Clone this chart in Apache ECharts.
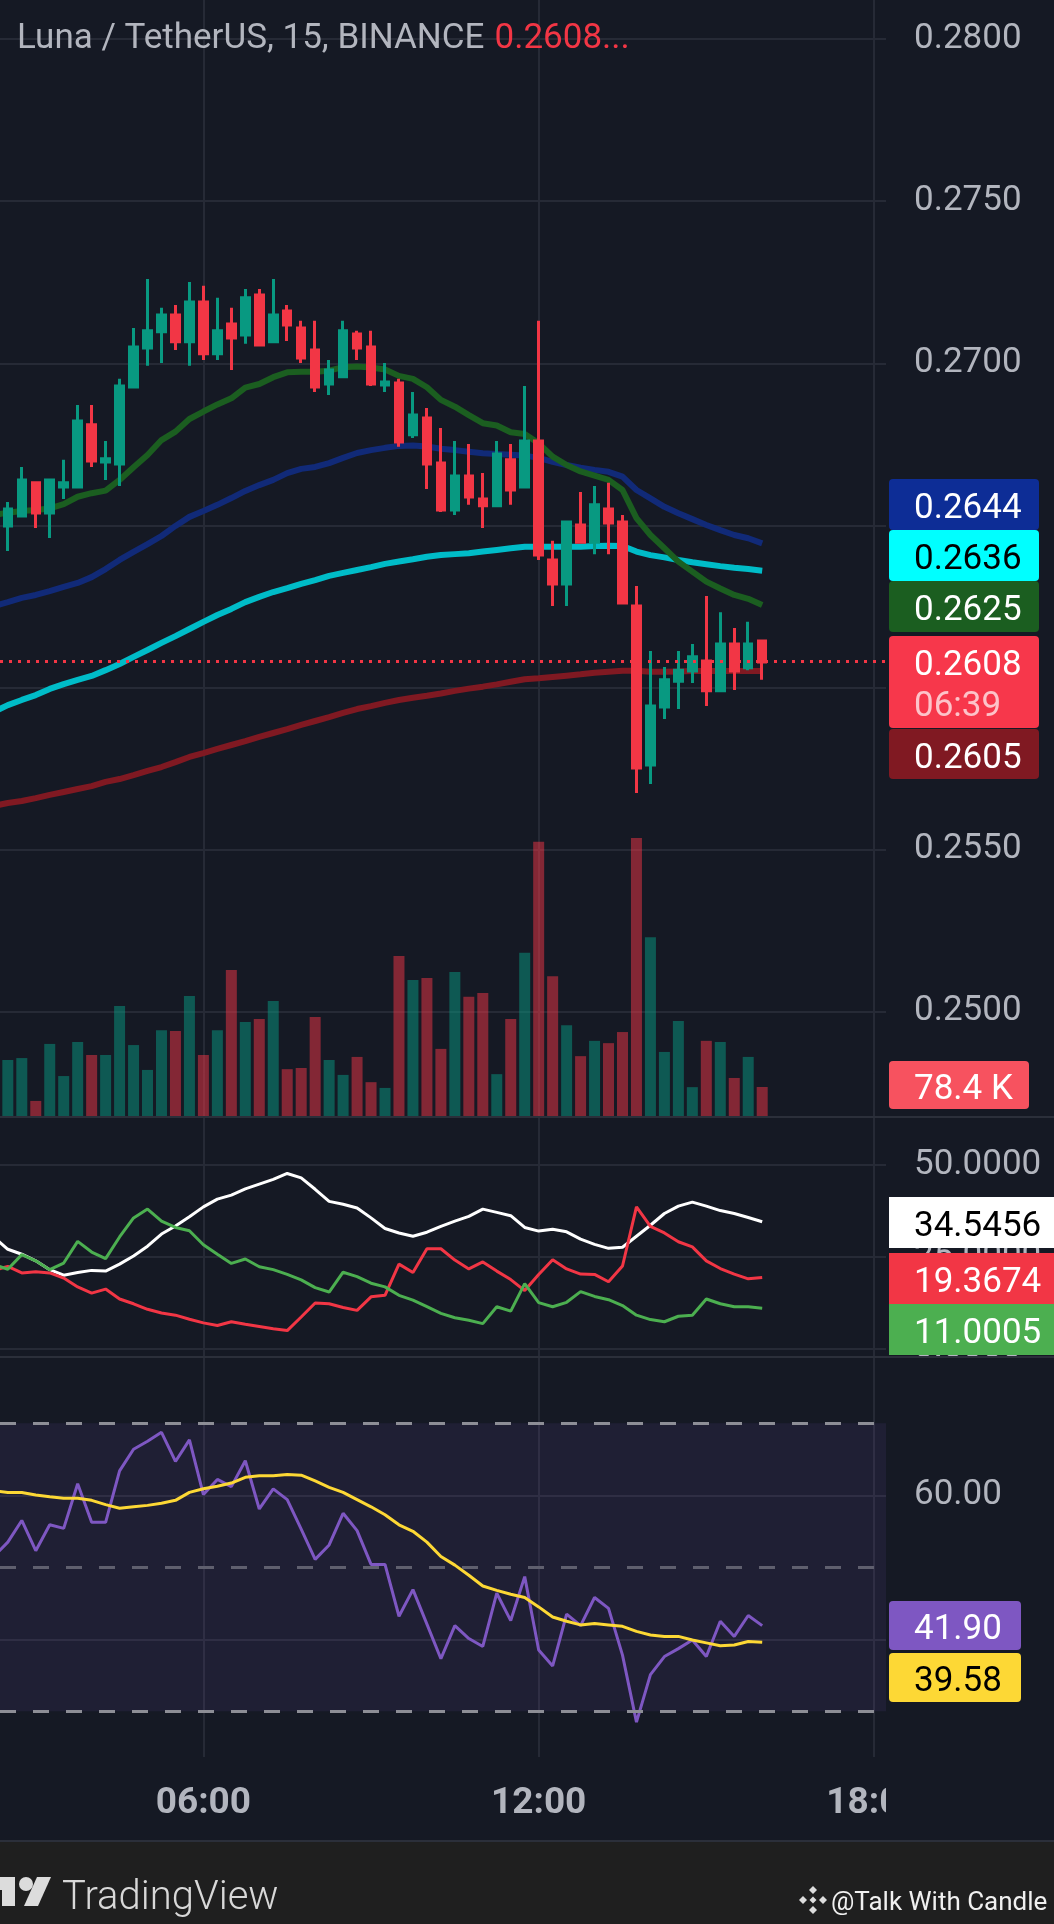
<!DOCTYPE html>
<html>
<head>
<meta charset="utf-8">
<title>Luna / TetherUS</title>
<script src="https://cdn.jsdelivr.net/npm/echarts@6/dist/echarts.min.js"></script>
<style>
html,body{margin:0;padding:0;background:#151924;}
#main{width:1054px;height:1924px;}
</style>
</head>
<body>
<div id="main"></div>
<script>
// 15 minute bars, the first line value sits one bar left of the first candle
var firstLineBar = Date.UTC(2023, 0, 10, 2, 15);
var barMs = 15 * 60 * 1000;
var viewStart = Date.UTC(2023, 0, 10, 2, 21, 36);
var viewEnd = Date.UTC(2023, 0, 10, 18, 12, 56);

var opens = [.26498,.26529,.26631,.26538,.26618,.26618,.26810,.26695,.26689,.26927,.27047,.27097,.27149,.27066,.27189,.27029,.27121,.27087,.27211,.27066,.27161,.27109,.27041,.26936,.26958,.27090,.27050,.26933,.26939,.26779,.26831,.26692,.26547,.26652,.26581,.26560,.26702,.26618,.26760,.26393,.26319,.26501,.26448,.26550,.26510,.26251,.25760,.25939,.26019,.26050,.26081,.25989,.26134,.26060,.26143];
var closes = [.26550,.26640,.26538,.26640,.26631,.26822,.26698,.26705,.26930,.27050,.27100,.27149,.27066,.27189,.27029,.27100,.27078,.27202,.27056,.27149,.27118,.27016,.26927,.26979,.27100,.27047,.26936,.26942,.26757,.26840,.26689,.26547,.26652,.26587,.26560,.26720,.26609,.26760,.26408,.26319,.26510,.26448,.26563,.26507,.26260,.25751,.25942,.26023,.26053,.26094,.25989,.26134,.26050,.26134,.26078];
var lows = [.26421,.26529,.26492,.26461,.26581,.26618,.26680,.26640,.26621,.26927,.26992,.27001,.27041,.26992,.27010,.27010,.26979,.27060,.27056,.27066,.27069,.27001,.26911,.26902,.26958,.27010,.26930,.26911,.26742,.26769,.26612,.26541,.26532,.26563,.26492,.26560,.26563,.26618,.26393,.26251,.26251,.26448,.26411,.26411,.26260,.25674,.25702,.25902,.25933,.26013,.25942,.25989,.25992,.26053,.26023];
var highs = [.26572,.26680,.26631,.26640,.26702,.26871,.26871,.26760,.26952,.27109,.27260,.27171,.27180,.27251,.27239,.27202,.27171,.27229,.27229,.27260,.27180,.27131,.27131,.27010,.27131,.27100,.27100,.27001,.26952,.26911,.26862,.26800,.26760,.26751,.26661,.26760,.26751,.26930,.27131,.26452,.26510,.26603,.26621,.26631,.26532,.26313,.26112,.26063,.26112,.26134,.26282,.26232,.26183,.26202,.26143];
var volumes = [149,154,42,191,107,196,162,162,290,188,123,227,225,316,162,227,384,248,256,303,125,128,261,149,110,157,91,76,421,358,363,178,379,314,324,112,256,429,719,368,240,159,199,193,222,729,470,170,251,78,199,196,102,157,78.4];

var ma1 = [.26532,.26539,.26544,.26547,.26552,.26565,.26588,.26599,.26607,.26640,.26679,.26717,.26763,.26789,.26828,.26851,.26873,.26892,.26925,.26936,.26957,.26972,.26974,.26974,.26977,.26988,.26990,.26987,.26981,.26961,.26952,.26926,.26887,.26866,.26840,.26815,.26808,.26787,.26782,.26753,.26712,.26686,.26666,.26653,.26640,.26609,.26522,.26470,.26429,.26388,.26357,.26326,.26305,.26285,.26273,.26254];
var ma2 = [.26251,.26263,.26276,.26285,.26297,.26310,.26322,.26340,.26365,.26393,.26418,.26442,.26467,.26498,.26526,.26544,.26563,.26584,.26606,.26624,.26640,.26661,.26674,.26680,.26692,.26708,.26723,.26732,.26739,.26745,.26746,.26743,.26736,.26732,.26727,.26722,.26720,.26718,.26715,.26708,.26696,.26686,.26678,.26671,.26665,.26650,.26609,.26583,.26557,.26537,.26519,.26501,.26485,.26470,.26460,.26444];
var ma3 = [.25924,.25945,.25961,.25976,.25995,.26010,.26023,.26035,.26053,.26072,.26094,.26115,.26137,.26158,.26180,.26202,.26223,.26242,.26263,.26279,.26294,.26306,.26319,.26331,.26344,.26353,.26362,.26371,.26381,.26388,.26395,.26403,.26408,.26411,.26414,.26419,.26424,.26429,.26434,.26434,.26434,.26434,.26434,.26436,.26437,.26436,.26419,.26408,.26401,.26393,.26386,.26380,.26374,.26369,.26365,.26360];
var ma4 = [.25634,.25643,.25649,.25658,.25668,.25677,.25686,.25695,.25708,.25717,.25729,.25742,.25754,.25769,.25785,.25797,.25810,.25822,.25834,.25847,.25859,.25871,.25884,.25896,.25908,.25921,.25933,.25942,.25952,.25961,.25968,.25974,.25981,.25989,.25996,.26002,.26009,.26017,.26025,.26028,.26032,.26036,.26040,.26045,.26048,.26051,.26051,.26048,.26048,.26049,.26050,.26050,.26050,.26050,.26050,.26050];

var adx = [30.4,27.05,25.7,23.9,21.5,20.0,20.7,21.3,21.1,23.0,25.2,27.9,31.2,33.4,35.9,38.6,40.7,41.8,43.5,44.8,46.1,47.7,46.5,43.4,40.1,39.3,38.3,35.6,32.7,31.5,30.6,31.7,33.3,34.7,36.0,38.0,37.1,36.2,33.0,32.0,32.5,31.8,29.8,28.4,27.3,27.6,30.6,33.6,36.8,38.8,39.9,38.8,37.6,36.8,35.7,34.5456];
var diMinus = [21.3,22.4,20.6,20.9,20.6,19.2,16.8,15.1,16.2,13.5,12.2,10.7,9.7,9.1,8.0,7.0,6.3,7.3,6.6,6.0,5.4,4.9,8.6,12.4,12.2,11.2,10.4,14.1,14.5,23.0,20.7,27.2,27.2,24.1,21.7,23.6,21.1,18.8,15.8,20.2,24.2,21.7,20.3,20.2,18.2,22.5,38.6,33.3,31.5,29.1,27.7,23.9,21.8,20.3,19.0,19.3674];
var diPlus = [22.9,21.6,25.6,23.9,21.5,23.3,29.2,26.3,24.5,30.4,35.6,38.0,34.7,33.0,32.1,28.3,25.7,23.2,24.4,22.3,21.5,20.2,18.7,16.6,15.4,20.8,19.6,17.8,16.8,14.5,13.2,11.4,9.6,8.4,7.7,6.8,11.4,10.2,17.7,12.5,11.4,12.6,15.5,14.2,13.3,11.7,9.1,7.9,7.3,8.8,9.1,13.5,12.2,11.4,11.4,11.0005];

var rsi = [51.5,53.5,56.5,52.3,55.9,55.4,61.6,56.25,56.25,63.4,66.4,67.5,68.75,64.7,67.7,60.1,62.2,61.2,64.8,58.1,60.9,59.4,55.3,51.1,53.1,57.5,55.1,50.4,50.4,43.2,46.9,42.1,37.3,41.9,40.1,39.0,46.4,42.6,48.7,38.5,36.3,43.5,41.9,45.8,44.3,37.8,28.5,35.1,37.6,38.7,39.9,37.6,42.5,40.4,43.3,41.9];
var rsiMa = [60.6,60.4,60.4,60.05,59.8,59.6,59.6,59.3,58.7,58.2,58.4,58.6,58.9,59.3,60.4,60.9,61.25,61.7,62.5,62.7,62.7,62.9,62.8,62.0,61.1,60.4,59.4,58.4,57.3,55.9,55.0,53.5,51.5,50.3,48.9,47.4,46.8,46.25,45.8,44.5,43.1,42.5,42.0,42.2,42.0,41.8,41.1,40.6,40.4,40.4,39.9,39.5,39.1,39.2,39.7,39.58];

var rsiLevels = [70, 50, 30];
var lastPrice = 0.2608;

var upColor = '#089981', downColor = '#f23645';
var gridColor = '#262a36';
var labelColor = '#b2b5be';
var fontName = 'Roboto';

// a bar series makes a time axis widen itself by half a bar on each side,
// so the main pane asks for a range that is narrower by that much
var paneWidth = 886;
var barPx = 11;
var barInset = (viewEnd - viewStart) / paneWidth * barPx / 2;

function withTime(arr, offset) {
	var out = [];
	for (var i = 0; i < arr.length; i++) {
		out.push([firstLineBar + (i + offset) * barMs, arr[i]]);
	}
	return out;
}

var candleData = [], volumeData = [];
for (var i = 0; i < opens.length; i++) {
	var t = firstLineBar + (i + 1) * barMs;
	candleData.push([t, opens[i], closes[i], lows[i], highs[i]]);
	volumeData.push({
		value: [t, volumes[i]],
		itemStyle: {color: closes[i] >= opens[i] ? 'rgba(8,153,129,0.5)' : 'rgba(242,54,69,0.5)'}
	});
}

function timeAxis(gridIndex, showLabel, inset) {
	return {
		type: 'time',
		gridIndex: gridIndex,
		min: viewStart + inset,
		max: viewEnd - inset,
		splitNumber: 2,
		axisLine: {show: false},
		axisTick: {show: false},
		axisLabel: {
			show: showLabel,
			formatter: '{HH}:{mm}',
			color: labelColor,
			fontFamily: fontName,
			fontSize: 37,
			fontWeight: 700,
			margin: 28,
			showMinLabel: false,
			showMaxLabel: false,
			hideOverlap: false
		},
		splitLine: {show: true, showMinLine: false, showMaxLine: false, lineStyle: {color: gridColor, width: 2}}
	};
}

function priceAxis(gridIndex, min, max, digits, splitNumber, interval) {
	return {
		type: 'value',
		gridIndex: gridIndex,
		position: 'right',
		min: min,
		max: max,
		splitNumber: splitNumber,
		interval: interval,
		axisLine: {show: false},
		axisTick: {show: false},
		axisLabel: {
			color: labelColor,
			fontFamily: fontName,
			fontSize: 35,
			margin: 28,
			padding: [8, 0, 0, 0],
			showMinLabel: false,
			showMaxLabel: false,
			formatter: function(v) { return v.toFixed(digits); }
		},
		splitLine: {show: true, showMinLine: false, showMaxLine: false, lineStyle: {color: gridColor, width: 2}}
	};
}

function lineSeries(name, data, color, width, xIdx, yIdx, z) {
	return {
		name: name,
		type: 'line',
		xAxisIndex: xIdx,
		yAxisIndex: yIdx,
		data: withTime(data, 0),
		showSymbol: false,
		z: z,
		lineStyle: {color: color, width: width},
		itemStyle: {color: color}
	};
}

function tagBox(top, w, h, fill) {
	return {type: 'rect', z: 100, shape: {x: 889, y: top, width: w, height: h, r: 4}, style: {fill: fill}};
}

function tagText(cy, text, color) {
	return {type: 'text', z: 101, style: {x: 914, y: cy + 4, text: text, fill: color, font: '35px ' + fontName, textAlign: 'left', textVerticalAlign: 'middle'}};
}

function diamond(cx, cy, r, color) {
	return {type: 'polygon', z: 101, shape: {points: [[cx, cy - r], [cx + r, cy], [cx, cy + r], [cx - r, cy]]}, style: {fill: color}};
}

var graphics = [
	// pane separators
	{type: 'rect', z: 50, shape: {x: 0, y: 1116, width: 1054, height: 2}, style: {fill: '#2b2f3a'}},
	{type: 'rect', z: 50, shape: {x: 0, y: 1356, width: 1054, height: 2}, style: {fill: '#2b2f3a'}},
	// the time axis is cut at the price scale
	{type: 'rect', z: 50, shape: {x: 886, y: 1758, width: 168, height: 82}, style: {fill: '#151924'}},
	// footer
	{type: 'rect', z: 60, shape: {x: 0, y: 1841, width: 1054, height: 83}, style: {fill: '#1f1f1f'}},
	{type: 'rect', z: 61, shape: {x: 0, y: 1840, width: 1054, height: 2}, style: {fill: '#2b2f3a'}},
	{type: 'polygon', z: 101, shape: {points: [[0, 1877], [15, 1877], [15, 1906], [2, 1906], [2, 1890], [0, 1890]]}, style: {fill: '#dcdcdc'}},
	{type: 'circle', z: 101, shape: {cx: 26, cy: 1884, r: 7}, style: {fill: '#dcdcdc'}},
	{type: 'polygon', z: 101, shape: {points: [[37, 1877], [51, 1877], [38, 1906], [24, 1906]]}, style: {fill: '#dcdcdc'}},
	{type: 'text', z: 101, style: {x: 62, y: 1899, text: 'TradingView', fill: '#d8d8d8', font: '300 40px ' + fontName, textAlign: 'left', textVerticalAlign: 'middle'}},
	diamond(813, 1900, 3.5, '#dddddd'),
	diamond(813, 1890, 4, '#dddddd'),
	diamond(813, 1910, 4, '#dddddd'),
	diamond(803, 1900, 4, '#dddddd'),
	diamond(823, 1900, 4, '#dddddd'),
	{type: 'text', z: 101, style: {x: 831, y: 1903, text: '@Talk With Candle', fill: '#f0f0f0', font: '26px ' + fontName, textAlign: 'left', textVerticalAlign: 'middle'}},
	// price tags
	tagBox(479, 150, 51, '#0d2d96'), tagText(505, '0.2644', '#ffffff'),
	tagBox(530, 150, 51, '#00ffff'), tagText(556, '0.2636', '#000000'),
	tagBox(581, 150, 51, '#1b5e20'), tagText(607, '0.2625', '#ffffff'),
	tagBox(636, 150, 92, '#f7374b'), tagText(662, '0.2608', '#ffffff'), tagText(703, '06:39', 'rgba(255,255,255,0.7)'),
	tagBox(729, 150, 50, '#801922'), tagText(755, '0.2605', '#ffffff'),
	tagBox(1061, 140, 48, '#f7525f'), tagText(1086, '78.4 K', '#ffffff'),
	// indicator tags
	{type: 'rect', z: 100, shape: {x: 889, y: 1197, width: 165, height: 51}, style: {fill: '#ffffff'}}, tagText(1223, '34.5456', '#000000'),
	{type: 'rect', z: 100, shape: {x: 889, y: 1253, width: 165, height: 51}, style: {fill: '#f23645'}}, tagText(1279, '19.3674', '#ffffff'),
	{type: 'rect', z: 100, shape: {x: 889, y: 1304, width: 165, height: 51}, style: {fill: '#4caf50'}}, tagText(1330, '11.0005', '#ffffff'),
	tagBox(1601, 132, 49, '#7e57c2'), tagText(1626, '41.90', '#ffffff'),
	tagBox(1653, 132, 49, '#fdd835'), tagText(1678, '39.58', '#000000')
];

var myChart = echarts.init(document.getElementById('main'));
var option = {
	animation: false,
	backgroundColor: '#151924',
	title: {
		left: 17,
		top: 22,
		padding: 0,
		text: '{a|Luna / TetherUS, 15, BINANCE}  {b|0.2608...}',
		textStyle: {
			rich: {
				a: {color: labelColor, fontFamily: fontName, fontSize: 35, fontWeight: 'normal'},
				b: {color: downColor, fontFamily: fontName, fontSize: 35, fontWeight: 'normal'}
			}
		}
	},
	grid: [
		{left: 0, top: 0, width: paneWidth, height: 1117},
		// runs past the pane on both sides so that min and max are multiples of the interval
		{left: 0, top: 1073.3, width: paneWidth, height: 367},
		{left: 0, top: 1358, width: paneWidth, height: 399}
	],
	xAxis: [timeAxis(0, false, barInset), timeAxis(1, false, 0), timeAxis(2, true, 0)],
	yAxis: [
		priceAxis(0, 0.24674, 0.28121, 4, 7),
		{type: 'value', gridIndex: 0, min: 0, max: 2919, show: false, splitLine: {show: false}},
		priceAxis(1, -25, 75, 4, 4, 25),
		priceAxis(2, 23.65, 79.07, 2, 3)
	],
	series: [
		{type: 'bar', name: 'Volume', xAxisIndex: 0, yAxisIndex: 1, data: volumeData, barWidth: barPx, z: 1},
		lineSeries('MA 4', ma4, '#801922', 6, 0, 0, 2),
		lineSeries('MA 3', ma3, '#00bcc8', 6, 0, 0, 2),
		lineSeries('MA 2', ma2, '#112a78', 6, 0, 0, 2),
		lineSeries('MA 1', ma1, '#1b5e20', 6, 0, 0, 2),
		{
			type: 'candlestick',
			name: 'Luna',
			xAxisIndex: 0,
			yAxisIndex: 0,
			data: candleData,
			barWidth: 8,
			z: 3,
			itemStyle: {color: upColor, color0: downColor, borderColor: upColor, borderColor0: downColor, borderWidth: 3},
			markLine: {
				silent: true,
				symbol: 'none',
				precision: 4,
				label: {show: false},
				lineStyle: {color: downColor, type: [3, 6], width: 3},
				data: [{yAxis: lastPrice}]
			}
		},
		lineSeries('ADX', adx, '#ffffff', 3, 1, 2, 3),
		lineSeries('-DI', diMinus, '#f23645', 3, 1, 2, 3),
		lineSeries('+DI', diPlus, '#4caf50', 3, 1, 2, 3),
		{
			type: 'line',
			name: 'RSI',
			xAxisIndex: 2,
			yAxisIndex: 3,
			data: withTime(rsi, 0),
			showSymbol: false,
			z: 3,
			lineStyle: {color: '#7e57c2', width: 3},
			itemStyle: {color: '#7e57c2'},
			markArea: {
				silent: true,
				itemStyle: {color: 'rgba(126,87,194,0.1)'},
				data: [[{yAxis: rsiLevels[0]}, {yAxis: rsiLevels[2]}]]
			},
			markLine: {
				silent: true,
				symbol: 'none',
				label: {show: false},
				lineStyle: {color: '#8d8e96', type: [16, 17], width: 3},
				data: rsiLevels.map(function(v) {
					return {yAxis: v, lineStyle: {color: v == 50 ? '#5f5f6e' : '#8d8e96', type: [16, 17], width: 3}};
				})
			}
		},
		lineSeries('RSI MA', rsiMa, '#fdd835', 3, 2, 3, 4)
	],
	graphic: {elements: graphics}
};
myChart.setOption(option);
</script>
</body>
</html>
